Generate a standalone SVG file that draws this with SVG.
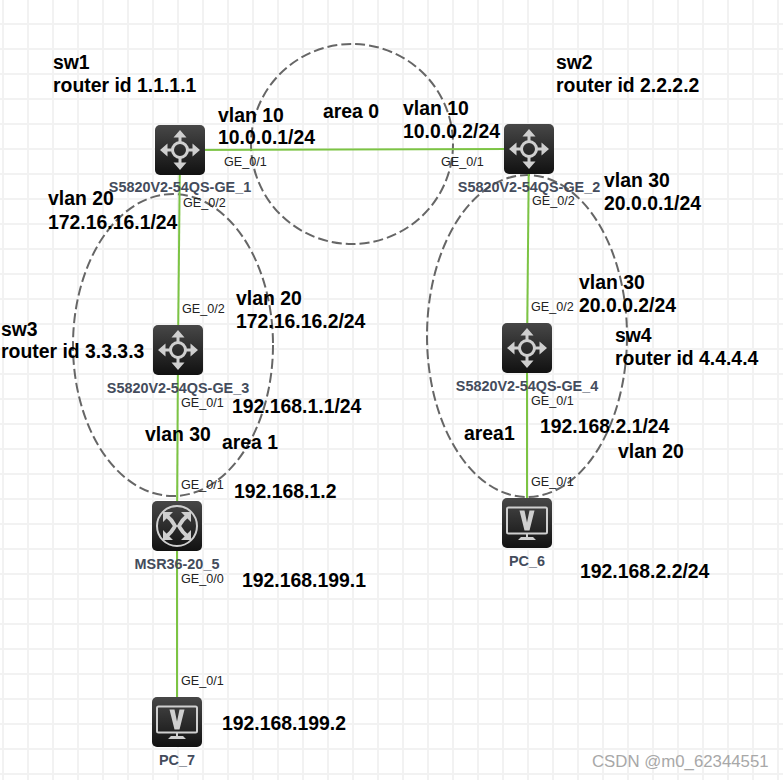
<svg xmlns="http://www.w3.org/2000/svg" xmlns:xlink="http://www.w3.org/1999/xlink" width="783" height="780" viewBox="0 0 783 780">
<style>
.t{font:bold 19.4px "Liberation Sans",Arial,sans-serif;fill:#000}
.p{font:12.6px "Liberation Sans",Arial,sans-serif;fill:#222}
.n{font:bold 14.4px "Liberation Sans",Arial,sans-serif;fill:#444c5c}
.l{stroke:#7cc444;stroke-width:2;fill:none}
.a{fill:none;stroke:#666;stroke-width:2;stroke-dasharray:10 4}
.g{stroke:#f2f2f2;stroke-width:2;fill:none}
.ic{stroke:#cfcfcf;fill:none}
.if{fill:#cfcfcf}
</style>
<defs>
<linearGradient id="bg" x1="0" y1="0" x2="0" y2="1"><stop offset="0" stop-color="#474747"/><stop offset="1" stop-color="#111"/></linearGradient>
<g id="sw">
<rect x="-25" y="-25" width="50" height="50" rx="5" fill="url(#bg)"/>
<circle r="7.5" class="ic" stroke-width="3" fill="none"/>
<path class="ic" stroke-width="3" d="M0-7.500V-17M0 7.500V17M-7.500 0H-17M7.500 0H17"/>
<path class="if" d="M0-20l-6.500 7.500h13zM0 20l-6.500-7.500h13zM-20 0l7.500-6.500v13zM20 0l-7.500-6.500v13z"/>
</g>
<g id="rt">
<rect x="-25" y="-25" width="50" height="50" rx="5" fill="url(#bg)"/>
<circle r="20" class="ic" stroke-width="2"/>
<path class="ic" stroke-width="4" d="M-10-10C-4-5-4-3-2 0C-4 3-4 5-10 10M10-10C4-5 4-3 2 0C4 3 4 5 10 10"/>
<path class="if" d="M-14-14h10l-10 10zM14-14h-10l10 10zM-14 14h10l-10-10zM14 14h-10l10-10z"/>
</g>
<g id="pc">
<rect x="-25" y="-25" width="50" height="50" rx="5" fill="url(#bg)"/>
<rect x="-20" y="-15.500" width="40" height="26" rx="1.500" class="ic" stroke-width="2"/>
<path class="if" d="M-7.500-12.500h5l2.500 12 2.500-12h5l-5 20h-5zM-1 11h2v3h5l3 3h-18l3-3h5z"/>
</g>
</defs>
<path class="g" d="M3 0V780M28 0V780M53 0V780M78 0V780M103 0V780M128 0V780M153 0V780M178 0V780M203 0V780M228 0V780M253 0V780M278 0V780M303 0V780M328 0V780M353 0V780M378 0V780M403 0V780M428 0V780M453 0V780M478 0V780M503 0V780M528 0V780M553 0V780M578 0V780M603 0V780M628 0V780M653 0V780M678 0V780M703 0V780M728 0V780M753 0V780M778 0V780"/>
<path class="g" d="M0 24H783M0 49H783M0 74H783M0 99H783M0 124H783M0 149H783M0 174H783M0 199H783M0 224H783M0 249H783M0 274H783M0 299H783M0 324H783M0 349H783M0 374H783M0 399H783M0 424H783M0 449H783M0 474H783M0 499H783M0 524H783M0 549H783M0 574H783M0 599H783M0 624H783M0 649H783M0 674H783M0 699H783M0 724H783M0 749H783M0 774H783"/>
<g id="areas">
<ellipse class="a" cx="352" cy="144" rx="101" ry="100"/>
<ellipse class="a" cx="173" cy="345" rx="100" ry="151"/>
<ellipse class="a" cx="527" cy="336" rx="100" ry="161"/>
</g>
<g id="connectors">
<path class="l" d="M180 150L529 149"/>
<path class="l" d="M180 150L178 350"/>
<path class="l" d="M178 350L177 526"/>
<path class="l" d="M177 526V722"/>
<path class="l" d="M529 149L527 348"/>
<path class="l" d="M527 348L527 523"/>
</g>
<g id="sw1"><use xlink:href="#sw" href="#sw" x="180" y="150"/><text class="n" x="180" y="192" text-anchor="middle">S5820V2-54QS-GE_1</text></g>
<g id="sw2"><use xlink:href="#sw" href="#sw" x="529" y="149"/><text class="n" x="529" y="192" text-anchor="middle">S5820V2-54QS-GE_2</text></g>
<g id="sw3"><use xlink:href="#sw" href="#sw" x="178" y="350"/><text class="n" x="178" y="393" text-anchor="middle">S5820V2-54QS-GE_3</text></g>
<g id="sw4"><use xlink:href="#sw" href="#sw" x="527" y="348"/><text class="n" x="527" y="391" text-anchor="middle">S5820V2-54QS-GE_4</text></g>
<g id="r5"><use xlink:href="#rt" href="#rt" x="177" y="526"/><text class="n" x="177" y="569" text-anchor="middle">MSR36-20_5</text></g>
<g id="pc6"><use xlink:href="#pc" href="#pc" x="527" y="523"/><text class="n" x="527" y="566" text-anchor="middle">PC_6</text></g>
<g id="pc7"><use xlink:href="#pc" href="#pc" x="177" y="722"/><text class="n" x="177" y="765" text-anchor="middle">PC_7</text></g>
<g id="ports">
<text class="p" x="224" y="166">GE_0/1</text>
<text class="p" x="441" y="166">GE_0/1</text>
<text class="p" x="183" y="207">GE_0/2</text>
<text class="p" x="532" y="205">GE_0/2</text>
<text class="p" x="182" y="313">GE_0/2</text>
<text class="p" x="531" y="311">GE_0/2</text>
<text class="p" x="181" y="407">GE_0/1</text>
<text class="p" x="531" y="405">GE_0/1</text>
<text class="p" x="181" y="489">GE_0/1</text>
<text class="p" x="531" y="486">GE_0/1</text>
<text class="p" x="181" y="583">GE_0/0</text>
<text class="p" x="181" y="685">GE_0/1</text>
</g>
<g id="labels">
<text class="t" x="53" y="69">sw1</text>
<text class="t" x="53" y="92">router id 1.1.1.1</text>
<text class="t" x="556" y="69">sw2</text>
<text class="t" x="556" y="92">router id 2.2.2.2</text>
<text class="t" x="218" y="122">vlan 10</text>
<text class="t" x="218" y="144">10.0.0.1/24</text>
<text class="t" x="323" y="118">area 0</text>
<text class="t" x="403" y="115">vlan 10</text>
<text class="t" x="403" y="138">10.0.0.2/24</text>
<text class="t" x="48" y="205">vlan 20</text>
<text class="t" x="48" y="229">172.16.16.1/24</text>
<text class="t" x="604" y="187">vlan 30</text>
<text class="t" x="604" y="210">20.0.0.1/24</text>
<text class="t" x="236" y="305">vlan 20</text>
<text class="t" x="236" y="328">172.16.16.2/24</text>
<text class="t" x="579" y="289">vlan 30</text>
<text class="t" x="579" y="312">20.0.0.2/24</text>
<text class="t" x="1" y="336">sw3</text>
<text class="t" x="1" y="358">router id 3.3.3.3</text>
<text class="t" x="615" y="342">sw4</text>
<text class="t" x="615" y="365">router id 4.4.4.4</text>
<text class="t" x="232" y="413">192.168.1.1/24</text>
<text class="t" x="145" y="441">vlan 30</text>
<text class="t" x="222" y="449">area 1</text>
<text class="t" x="464" y="440">area1</text>
<text class="t" x="540" y="433">192.168.2.1/24</text>
<text class="t" x="618" y="458">vlan 20</text>
<text class="t" x="234" y="498">192.168.1.2</text>
<text class="t" x="242" y="587">192.168.199.1</text>
<text class="t" x="580" y="578">192.168.2.2/24</text>
<text class="t" x="222" y="730">192.168.199.2</text>
<text x="592" y="767" font-family="Liberation Sans, Arial, sans-serif" font-size="16.800" fill="#a8a8a8">CSDN @m0_62344551</text>
</g>
</svg>
